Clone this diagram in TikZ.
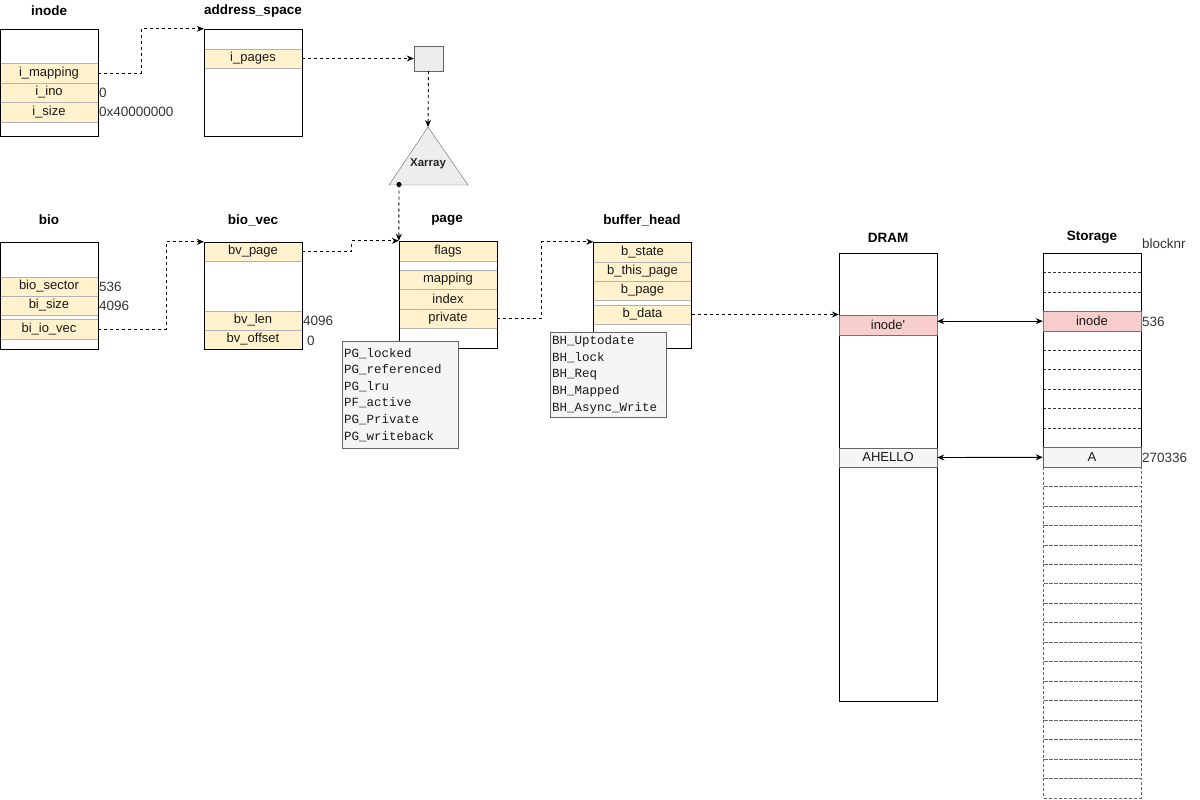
\documentclass[tikz,border=0pt]{standalone}
\usepackage{fontspec}
\setmainfont{Liberation Sans}
\setmonofont{Liberation Mono}
\usepackage{tikz}
\usetikzlibrary{arrows.meta}

\definecolor{fieldfill}{HTML}{FFF2CC}
\definecolor{hotfill}{HTML}{F8CECC}
\definecolor{hotline}{HTML}{B85450}
\definecolor{greyfill}{HTML}{F5F5F5}
\definecolor{greyline}{HTML}{666666}

\begin{document}
\begin{tikzpicture}[x=1pt,y=-1pt,
  title/.style={font=\fontsize{13.5}{16}\selectfont\bfseries},
  field/.style={draw=black!30, fill=fieldfill, minimum width=98, minimum height=19.5,
    inner sep=0, font=\fontsize{13}{15}\selectfont, text=black!90},
  frame/.style={draw=black, minimum width=98, inner sep=0},
  value/.style={anchor=west, inner sep=1, font=\fontsize{13.5}{16}\selectfont, text=black!80},
  hot/.style={field, draw=hotline, fill=hotfill},
  grey/.style={field, draw=greyline, fill=greyfill},
  flagbox/.style={draw=greyline, fill=greyfill, inner xsep=2, inner ysep=0, text width=112,
    align=left, font=\ttfamily\fontsize{12.5}{16.6}\selectfont, text=black!90},
  link/.style={draw, line width=0.9, dash pattern=on 3pt off 3pt, -{Stealth[length=7pt,width=6pt]}},
  both/.style={draw, line width=0.9, {Stealth[length=7pt,width=6pt]}-{Stealth[length=7pt,width=6pt]}},
  cellline/.style={draw=black!80, line width=0.7, dash pattern=on 3pt off 2pt},
  cellbox/.style={draw=greyline, line width=0.7, dash pattern=on 3pt off 2pt}]
  \useasboundingbox (0,0) rectangle (1200,800);

  % inode
  \node[title] (inodelbl) at (49,11) {inode};
  \node[field] (imapping) at (49,73) {i\_mapping};
  \node[field] (iino) at (49,92.5) {i\_ino};
  \node[field] (isize) at (49,112) {i\_size};
  \node[frame, minimum height=107] (inode) at (49,82.5) {};
  \node[value] (iinoval) at (98,92.5) {0};
  \node[value] (isizeval) at (98,112) {0x40000000};

  % address_space
  \node[title] (aspacelbl) at (253,11) {address\_space};
  \node[field] (ipages) at (253,58.5) {i\_pages};
  \node[frame, minimum height=107] (aspace) at (253,82.5) {};

  % Xarray
  \node[draw=greyline, fill=black!7, minimum width=29, minimum height=25, inner sep=0] (slot) at (428.5,58.5) {};
  \coordinate (xtop) at (428,127);
  \coordinate (xdot) at (399,184.5);
  \draw[draw=greyline, fill=black!7] (xtop) -- (468,185) -- (389,185) -- cycle;
  \node[font=\fontsize{11.5}{14}\selectfont\bfseries, text=black!85] (xarray) at (428,164) {Xarray};
  \fill (xdot) circle (2.6);

  % bio
  \node[title] (biolbl) at (49,220) {bio};
  \node[field] (bisector) at (49,286.5) {bio\_sector};
  \node[field] (bisize) at (49,305.5) {bi\_size};
  \node[field] (biiovec) at (49,329) {bi\_io\_vec};
  \node[frame, minimum height=107] (bio) at (49,295.5) {};
  \node[value] (bisectorval) at (98,287) {536};
  \node[value] (bisizeval) at (98,306) {4096};

  % bio_vec
  \node[title] (biveclbl) at (253,220) {bio\_vec};
  \node[field] (bvpage) at (253,251.5) {bv\_page};
  \node[field] (bvlen) at (253,320.5) {bv\_len};
  \node[field] (bvoffset) at (253,339.5) {bv\_offset};
  \node[frame, minimum height=107] (biovec) at (253,295.5) {};
  \node[value] (bvlenval) at (302,320.5) {4096};
  \node[value] (bvoffsetval) at (306,341) {0};

  % page
  \node[title] (pagelbl) at (447,220) {page};
  \node[field] (flags) at (448,251) {flags};
  \node[field] (mapping) at (448,279.5) {mapping};
  \node[field] (index) at (448,299) {index};
  \node[field] (private) at (448,318.5) {private};
  \node[frame, minimum height=107] (page) at (448,294.5) {};
  \node[flagbox, anchor=north west, minimum height=107] (pgflags) at (342,341) {PG\_locked\\PG\_referenced\\PG\_lru\\PF\_active\\PG\_Private\\PG\_writeback};

  % buffer_head
  \node[title] (bheadlbl) at (642,220) {buffer\_head};
  \node[field] (bstate) at (642.5,252) {b\_state};
  \node[field] (bthispage) at (642.5,271.5) {b\_this\_page};
  \node[field] (bpage) at (642.5,290.5) {b\_page};
  \node[field] (bdata) at (642.5,314.5) {b\_data};
  \node[frame, minimum height=106] (bhead) at (642.5,295) {};
  \node[flagbox, anchor=north west, minimum height=85] (bhflags) at (550,332) {BH\_Uptodate\\BH\_lock\\BH\_Req\\BH\_Mapped\\BH\_Async\_Write};

  % DRAM
  \node[title] (dramlbl) at (888,238) {DRAM};
  \node[frame, minimum height=448] (dram) at (888,477) {};
  \node[hot] (inodecopy) at (888,325) {inode\textquotesingle};
  \node[grey] (ahello) at (888,457.5) {AHELLO};

  % Storage
  \node[title] (storagelbl) at (1092,237) {Storage};
  \draw (1043,253) rectangle (1141,447.6);
  \foreach \k in {1,2,5,6,7,8,9}
    \draw[cellline] (1043,{253+19.46*\k}) -- (1141,{253+19.46*\k});
  \foreach \k in {11,...,27}
    \draw[cellbox] (1043,{253+19.46*\k}) rectangle (1141,{253+19.46*(\k+1)});
  \node[hot] (stinode) at (1092,321.2) {inode};
  \node[grey] (sta) at (1092,457.3) {A};
  \node[value] (blocknr) at (1141,244) {blocknr};
  \node[value] (stinodeval) at (1141,322) {536};
  \node[value] (staval) at (1141,458) {270336};

  % pointers
  \draw[link] (imapping.east) -- ++(43,0) |- (aspace.north west);
  \draw[link] (ipages.east) -- (slot.west);
  \draw[link] (slot.south) -- (xtop);
  \draw[link] (xdot) -- (page.north west);
  \draw[link] (biiovec.east) -- ++(68,0) |- (biovec.north west);
  \draw[link] (bvpage.east) -- ++(49,0) |- (page.north west);
  \draw[link] (private.east) -- ++(44,0) |- (bhead.north west);
  \draw[link] (bdata.east) -- (bdata.east -| inodecopy.west);
  \draw[both] (inodecopy.east |- stinode.east) -- (stinode.west);
  \draw[both] (ahello.east) -- (sta.west);
\end{tikzpicture}
\end{document}
